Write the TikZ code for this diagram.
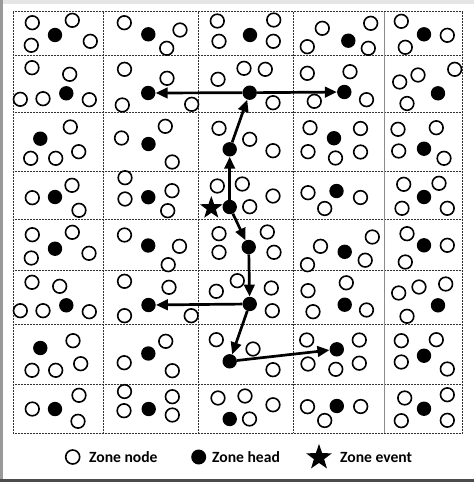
\documentclass[tikz,border=0pt]{standalone}
\usepackage{fontspec}
\setmainfont{Carlito}
\usetikzlibrary{arrows.meta,shapes.geometric}
\begin{document}
\begin{tikzpicture}[x=1pt,y=-1pt,
  zn/.style={circle,draw,line width=1.6pt,minimum size=13.6pt,inner sep=0pt,fill=white},
  zh/.style={circle,fill=black,minimum size=14.4pt,inner sep=0pt},
  zev/.style={star,star points=5,star point ratio=2.5,fill=black,inner sep=0pt,minimum size=#1},
  zev/.default=24pt,
  gridline/.style={line width=0.8pt,black!80,dash pattern=on 0.8pt off 0.7pt},
  sepline/.style={line width=1.3pt,black!45},
  link/.style={line width=2.7pt,-{Triangle[length=12pt,width=10.5pt]}},
  legtext/.style={anchor=west,inner sep=0pt,font=\bfseries\fontsize{15.6}{18}\selectfont}]
\useasboundingbox (0,0) rectangle (474,482);
% frame
\fill[white] (0,0) rectangle (474,482);
\fill[black!10] (0,0) rectangle (474,4);
\fill[black!40] (0,0) rectangle (2.7,482);
\fill[black!70] (0,479) rectangle (474,482);
% grid
\foreach \gx in {13,103.5,198.7,293.5,462.5}
  \draw[gridline] (\gx,11.7) -- (\gx,433);
\foreach \gy in {11.7,55,112,171,219.5,270.7,324.5,384.7,433}
  \draw[gridline] (13,\gy) -- (462.5,\gy);
\draw[sepline] (384.3,11.7) -- (384.3,433);
% zone nodes (open circles)
\foreach \px/\py [count=\i] in {
 32.3/22.7,72.3/20.3,31.3/45.3,90.3/41.3,
 124.3/22.7,180/30,166.7/48.3,
 217.3/21,219/41.3,273.7/20,273.3/41.3,
 307.3/46.7,322.3/28.3,370.7/23.3,368.3/48.3,
 401.3/21.3,405.3/47.3,447.3/35.3,
 32/67.7,69.7/74.3,20.3/99.3,43/98.7,89.3/99.7,
 124.5/69.3,122.3/105,167/78.3,191.7/104.3,
 218/79.3,244/68.3,265.3/69.3,273/102.7,
 307.3/73.3,350/71.7,314.3/101.3,366.5/99.7,
 399.7/82,418/75,454.7/69.3,407/103.5,
 70.3/127,30.7/158.3,55.7/158.3,78.7/151.7,
 121.5/138,165.3/126.3,172.2/162,
 219/128.3,249.7/139.3,273/150.7,
 310/127.7,308/151.7,335.5/158,360.5/128.5,360.5/152,
 398/129.3,436.3/127.7,398.7/151,444/158.3,
 32.3/197.7,72/185.3,79/210.3,
 125/177.7,125/199,172/190.7,167.7/210.7,
 217.3/186,242.3/184,249.7/206.7,273/196,
 308/192.7,324.7/208.5,360.5/197.5,
 403.7/184.3,439/183.3,402/208.3,447.3/208.3,
 32.3/234.7,72.3/232.3,31.3/258,89/253.3,
 124.5/235,179.5/246.3,168.2/264.7,
 219/233.7,219/252.3,267.3/232,274/252.3,
 320.5/246.3,307.5/264.7,372.3/237,365.2/260.2,
 407/233.7,405.3/262,447.3/245.3,
 32/282.3,59.7/286.3,20.3/310.7,43/310.7,89.3/311.7,
 124.5/281.3,169/287.3,124.5/315.7,191.2/315.7,
 216.3/291.3,237.3/280.7,271.3/288,272.3/310.7,
 308/290.7,313/311.7,346.3/282.8,366.5/310,
 398.7/293,419/287,445.7/284,407/316.3,
 73/340.7,80.7/363.7,32/370.3,55.7/370.3,
 165.7/341.3,124.2/362.7,172.3/370.7,
 216.3/339.7,253/349,273/369.7,
 306.7/340,308/364,335.8/369.3,359.3/340,359.3/363.2,
 401.3/340.7,436.3/339.7,401.3/362,447.3/369,
 32.3/409,79/395.3,78/421.3,
 124.5/391.5,124/410.7,172.3/396.7,172.3/415,
 218/398,245/396,273/404.8,249.5/419,
 307.5/406.7,324.7/420.5,360.7/406.5,
 404.7/398,447.3/394.7,401.3/420.7,447.3/420.3}
  \node[zn] (n\i) at (\px,\py) {};
% zone heads (filled circles)
\foreach \hn/\px/\py in {
 11/55/35,12/148.3/34.3,13/250/35,14/348.3/40.7,15/424/34.3,
 21/66.3/93.3,22/148.2/93,23/249.7/92.7,24/344.3/92,25/438/93.3,
 31/40.3/138.7,32/148.5/144,33/229.7/149.3,34/334/138.2,35/424/148.7,
 41/55/197,42/148.3/197.2,43/229.7/207,44/336.5/191,45/424/197,
 51/55/248.7,52/148.2/245.5,53/248.7/247,54/344.7/251.8,55/424/245.3,
 61/66.3/305.3,62/148.5/305,63/249.7/304,64/344.7/304.7,65/438/305.3,
 71/40.3/348,72/148.3/353.5,73/229.7/361.3,74/336.8/349.3,75/424/355.7,
 81/55/409,82/148.7/409,83/229.7/419,84/336.8/406,85/424/408.7}
  \node[zh] (h\hn) at (\px,\py) {};
% zone event
\node[zev] (ev) at (211.3,208) {};
% message paths
\draw[link] (h43) -- (h33);
\draw[link] (h33) -- (h23);
\draw[link] (h23) -- (h22);
\draw[link] (h23) -- (h24);
\draw[link] (h43) -- (h53);
\draw[link] (h53) -- (h63);
\draw[link] (h63) -- (h62);
\draw[link] (h63) -- (h73);
\draw[link] (h73) -- (h74);
% legend
\node[zn,minimum size=14pt] (lgn) at (72.7,457) {};
\node[legtext] (lgnt) at (89,457) {Zone node};
\node[zh,minimum size=15pt] (lgh) at (198.7,457) {};
\node[legtext] (lght) at (212,457) {Zone head};
\node[zev=27pt] (lge) at (319,457.5) {};
\node[legtext] (lget) at (340,457) {Zone event};
\end{tikzpicture}
\end{document}
